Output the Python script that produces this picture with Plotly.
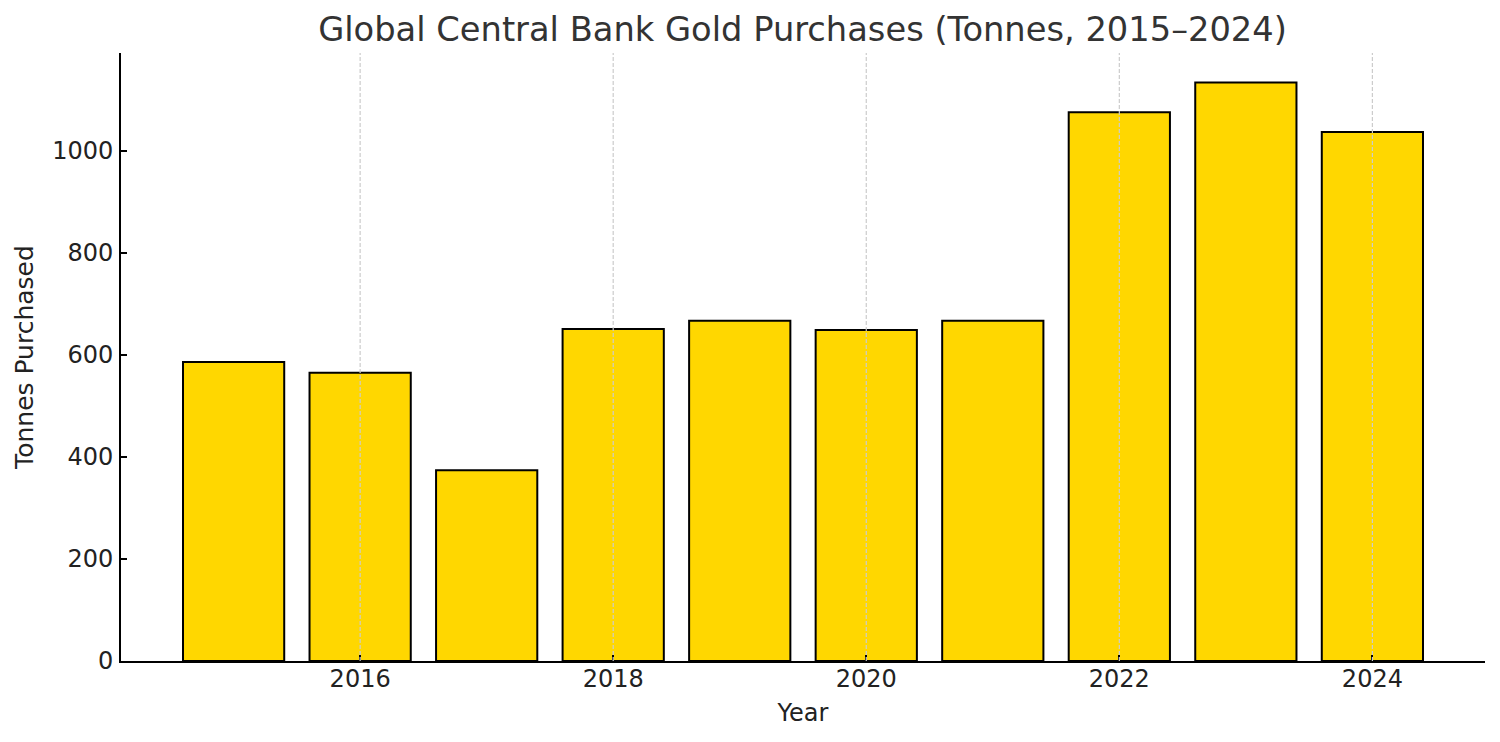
import plotly.graph_objects as go

years = [2015, 2016, 2017, 2018, 2019, 2020, 2021, 2022, 2023, 2024]
tonnes = [586, 565, 374, 651, 667, 649, 667, 1076, 1134, 1037]
x_ticks = [2016, 2018, 2020, 2022, 2024]
y_ticks = [0, 200, 400, 600, 800, 1000]

FONT = "DejaVu Sans"

fig = go.Figure()
fig.add_trace(go.Bar(
    x=years, y=tonnes, width=0.8,
    marker=dict(color="#FFD700", line=dict(color="#000000", width=2)),
))

for t in x_ticks:
    fig.add_shape(type="line", xref="x", yref="paper", x0=t, x1=t, y0=0, y1=1,
                  line=dict(color="#cccccc", width=1.2, dash="4px,2px"), layer="above")

fig.update_layout(
    width=1500, height=742,
    margin=dict(l=121, r=15, t=53, b=81),
    plot_bgcolor="white", paper_bgcolor="white",
    showlegend=False,
    font=dict(family=FONT, size=25, color="#222222"),
    title=dict(text="Global Central Bank Gold Purchases (Tonnes, 2015–2024)",
               x=0.535, xanchor="center",
               y=0.96, yanchor="middle", yref="container",
               font=dict(family=FONT, size=33.7, color="#333333")),
    xaxis=dict(
        range=[2014.11, 2024.89], tickmode="array", tickvals=x_ticks,
        ticktext=[str(t) for t in x_ticks],
        showgrid=False, zeroline=False, layer="above traces",
        showline=True, linecolor="#000000", linewidth=1.7,
        ticks="inside", ticklen=6, tickwidth=1.5, tickcolor="#000000",
        ticklabelstandoff=-5,
        tickfont=dict(family=FONT, size=24, color="#222222"),
        title=dict(text="Year", font=dict(family=FONT, size=24, color="#222222"), standoff=13),
    ),
    yaxis=dict(
        range=[0, 1192], tickmode="array", tickvals=y_ticks,
        ticktext=[str(t) for t in y_ticks],
        showgrid=False, zeroline=False, layer="above traces",
        showline=True, linecolor="#000000", linewidth=1.7,
        ticks="inside", ticklen=6, tickwidth=1.5, tickcolor="#000000",
        ticklabelstandoff=1,
        tickfont=dict(family=FONT, size=24, color="#222222"),
        title=dict(text="Tonnes Purchased", font=dict(family=FONT, size=25, color="#222222"), standoff=12),
    ),
)

fig.write_html("out.html")
